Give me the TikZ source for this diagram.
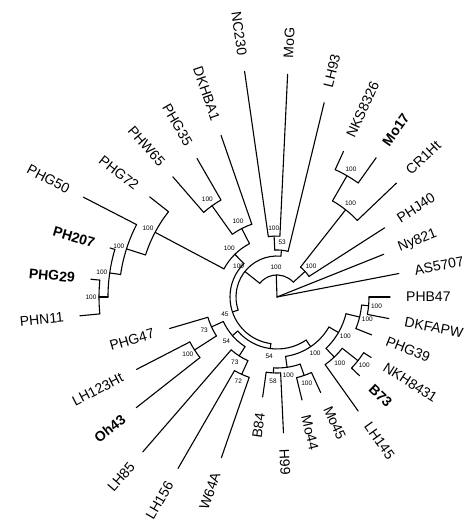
\documentclass[tikz,border=0pt]{standalone}
\usepackage{fontspec}
\setmainfont{Liberation Sans}
\tikzset{
  branch/.style={line width=1.1pt, line cap=round, line join=round, black},
  boot/.style={font=\fontsize{6.5}{7}\selectfont, inner sep=0pt},
  leaflab/.style={font=\fontsize{14}{16}\selectfont, inner sep=0pt}
}
% internal node: name, mid angle, radius, start angle, end angle, parent radius, support
\newcommand\tnd[7]{%
  \coordinate (#1) at (#2:#3pt);
  \coordinate (#1-base) at (#2:#6pt);
  \draw[branch] (#4:#3pt) arc[start angle=#4, end angle=#5, radius=#3pt];
  \draw[branch] (#1-base) -- (#1);
  \path (#1) ++(#2:8pt) node[boot] (#1-lab) {#7};
}
% leaf: name, angle, tip radius, parent radius, rotation, anchor, text
\newcommand\tlf[7]{%
  \coordinate (#1-base) at (#2:#4pt);
  \coordinate (#1) at (#2:#3pt);
  \draw[branch] (#1-base) -- (#1);
  \path (#1) ++(#2:16pt) node[leaflab, rotate=#5, anchor=#6] (#1-lab) {#7};
}
\begin{document}
\begin{tikzpicture}[x=1pt,y=1pt]
\useasboundingbox (-277,-229) rectangle (197,297);
\fill[white] (-277,-229) rectangle (197,297);
\coordinate (root) at (0,0);
% internal nodes
\tnd{A}{91.92}{22}{42.27}{141.56}{0}{100}
\tnd{P}{42.27}{38}{32.73}{51.82}{22}{100}
\tnd{P2}{51.82}{111}{43.64}{60.00}{38}{100}
\tnd{P3}{60.00}{140}{54.55}{65.45}{111}{100}
\tnd{B}{141.56}{41}{84.55}{198.58}{22}{100}
\tnd{M2}{84.55}{47}{76.36}{92.73}{41}{53}
\tnd{M1}{92.73}{61}{87.27}{98.18}{47}{100}
\tnd{J}{198.58}{47}{134.66}{262.50}{41}{45}
\tnd{V}{134.66}{60}{117.27}{152.05}{47}{100}
\tnd{X1}{117.27}{77}{109.09}{125.45}{60}{100}
\tnd{W}{125.45}{112}{120.00}{130.91}{77}{100}
\tnd{U}{152.05}{138}{141.82}{162.27}{60}{100}
\tnd{Q}{162.27}{158}{152.73}{171.82}{138}{100}
\tnd{S}{171.82}{169}{163.64}{180.00}{158}{100}
\tnd{T}{180.00}{178}{174.55}{185.45}{169}{100}
\tnd{H}{262.50}{52}{220.91}{304.09}{47}{54}
\tnd{K6}{220.91}{59}{204.55}{237.27}{52}{54}
\tnd{K2}{204.55}{72}{196.36}{212.73}{59}{73}
\tnd{K1}{212.73}{98}{207.27}{218.18}{72}{100}
\tnd{K5}{237.27}{70}{229.09}{245.45}{59}{73}
\tnd{K4}{245.45}{85}{240.00}{250.91}{70}{72}
\tnd{F}{304.09}{60}{278.18}{330.00}{52}{100}
\tnd{G2}{278.18}{71}{267.27}{289.09}{60}{100}
\tnd{G3}{267.27}{76}{261.82}{272.73}{71}{58}
\tnd{G1}{289.09}{83}{283.64}{294.55}{71}{100}
\tnd{D3}{330.00}{71}{313.64}{346.36}{60}{100}
\tnd{E2}{313.64}{83}{305.45}{321.82}{71}{100}
\tnd{E1}{321.82}{103}{316.36}{327.27}{83}{100}
\tnd{D2}{346.36}{85}{338.18}{354.55}{71}{100}
\tnd{D1}{354.55}{92}{349.09}{360.00}{85}{100}
% leaves
\tlf{PHB47}{0}{113}{92}{0}{west}{PHB47}
\tlf{AS5707}{10.91}{124}{0}{10.91}{west}{AS5707}
\tlf{Ny821}{21.82}{115}{0}{21.82}{west}{Ny821}
\tlf{PHJ40}{32.73}{128}{38}{32.73}{west}{PHJ40}
\tlf{CR1Ht}{43.64}{165}{111}{43.64}{west}{CR1Ht}
\tlf{Mo17}{54.55}{171}{140}{54.55}{west}{\bfseries Mo17}
\tlf{NKS8326}{65.45}{160}{140}{65.45}{west}{NKS8326}
\tlf{LH93}{76.36}{200}{47}{76.36}{west}{LH93}
\tlf{MoG}{87.27}{223}{61}{87.27}{west}{MoG}
\tlf{NC230}{98.18}{228}{61}{-81.82}{east}{NC230}
\tlf{DKHBA1}{109.09}{171}{77}{-70.91}{east}{DKHBA1}
\tlf{PHG35}{120.00}{160}{112}{-60.00}{east}{PHG35}
\tlf{PHW65}{130.91}{159}{112}{-49.09}{east}{PHW65}
\tlf{PHG72}{141.82}{162}{138}{-38.18}{east}{PHG72}
\tlf{PHG50}{152.73}{218}{158}{-27.27}{east}{PHG50}
\tlf{PH207}{163.64}{174}{169}{-16.36}{east}{\bfseries PH207}
\tlf{PHG29}{174.55}{187}{178}{-5.45}{east}{\bfseries PHG29}
\tlf{PHN11}{185.45}{198}{178}{5.45}{east}{PHN11}
\tlf{PHG47}{196.36}{112}{72}{16.36}{east}{PHG47}
\tlf{LH123Ht}{207.27}{158}{98}{27.27}{east}{LH123Ht}
\tlf{Oh43}{218.18}{179}{98}{38.18}{east}{\bfseries Oh43}
\tlf{LH85}{229.09}{205}{70}{49.09}{east}{LH85}
\tlf{LH156}{240.00}{198}{85}{60.00}{east}{LH156}
\tlf{W64A}{250.91}{170}{85}{70.91}{east}{W64A}
\tlf{B84}{261.82}{101}{76}{81.82}{east}{B84}
\tlf{H99}{272.73}{136}{76}{272.73}{west}{H99}
\tlf{Mo44}{283.64}{106}{83}{283.64}{west}{Mo44}
\tlf{Mo45}{294.55}{105}{83}{294.55}{west}{Mo45}
\tlf{LH145}{305.45}{140}{83}{305.45}{west}{LH145}
\tlf{B73}{316.36}{114}{103}{316.36}{west}{\bfseries B73}
\tlf{NKH8431}{327.27}{112}{103}{327.27}{west}{NKH8431}
\tlf{PHG39}{338.18}{102}{85}{338.18}{west}{PHG39}
\tlf{DKFAPW}{349.09}{114}{92}{349.09}{west}{DKFAPW}
\end{tikzpicture}
\end{document}
